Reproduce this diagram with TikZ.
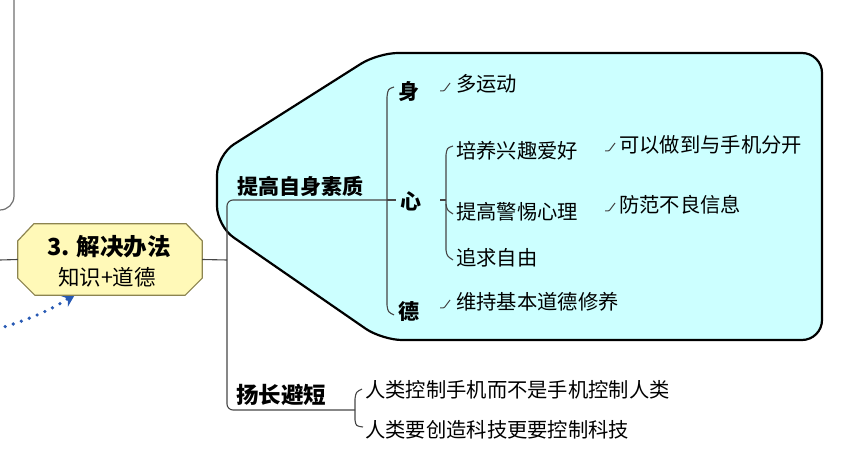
\documentclass[tikz,border=0pt]{standalone}
\usepackage{fontspec}
\setmainfont{Noto Sans CJK SC}
\usetikzlibrary{arrows.meta,calc}
\definecolor{cyanfill}{RGB}{204,255,255}
\definecolor{octfill}{RGB}{255,249,184}
\definecolor{octline}{RGB}{140,132,80}
\definecolor{linegray}{RGB}{70,70,70}
\definecolor{boxgray}{RGB}{110,110,110}
\definecolor{arrblue}{RGB}{40,90,180}
\begin{document}
\begin{tikzpicture}[x=1bp,y=-1bp,
  txt/.style={anchor=west, inner sep=0pt, font=\fontsize{20.3bp}{24bp}\selectfont},
  btxt/.style={anchor=west, inner sep=0pt, font=\fontsize{21bp}{24bp}\selectfont\bfseries},
  conn/.style={draw=linegray, line width=1.1bp},
  tickln/.style={draw=linegray, line width=1bp, rounded corners=1bp},
]
\useasboundingbox (0,0) rectangle (852,466);

% top-left partial box
\draw[boxgray, line width=1.2bp, rounded corners=14bp] (14,-6) -- (14,210) -- (-6,210);

% octagon placeholder node
\node[inner sep=0pt, minimum width=184bp, minimum height=71bp] (oct) at (110,259.5) {};

% blue dotted arrow (drawn below octagon)
\coordinate (arrS) at (-3,329);
\draw[arrblue, line width=3.6bp, line cap=round, dash pattern=on 0pt off 8.5bp,
      -{Stealth[length=14bp,width=13bp]}]
  (arrS) .. controls (25,321) and (50,311) .. ($(oct.south west)+(58,-2)$);

% octagon
\draw[fill=octfill, draw=octline, line width=1.2bp]
  ($(oct.north west)+(16,0)$) -- ($(oct.north east)+(-16,0)$) --
  ($(oct.north east)+(0,17)$) -- ($(oct.south east)+(0,-17)$) --
  ($(oct.south east)+(-17,0)$) -- ($(oct.south west)+(17,0)$) --
  ($(oct.south west)+(0,-17)$) -- ($(oct.north west)+(0,17)$) -- cycle;
\node[inner sep=0pt, font=\fontsize{23.5bp}{26bp}\selectfont\bfseries] (t1) at (109,247) {3. 解决办法};
\node[inner sep=0pt, font=\fontsize{21.5bp}{24bp}\selectfont] (t2) at (107,277) {知识+道德};

% cyan boundary
\draw[fill=cyanfill, draw=black, line width=2.2bp, rounded corners=20bp]
  (378,53) -- (822,53) -- (822,340) -- (382,340) -- (217,226) -- (217,155) -- cycle;

% text nodes
\node[btxt] (tg) at (237,186) {提高自身素质};
\node[btxt] (shen) at (398,92) {身};
\node[btxt] (xin) at (400,201) {心};
\node[btxt] (de) at (398,311) {德};
\node[txt] (ydd) at (456,84) {多运动};
\node[txt] (pyxq) at (456,151) {培养兴趣爱好};
\node[txt] (tgjt) at (456,212) {提高警惕心理};
\node[txt] (zqzy) at (456,258) {追求自由};
\node[txt] (wcjb) at (456,302) {维持基本道德修养};
\node[txt] (kyzd) at (619,145) {可以做到与手机分开};
\node[txt] (ffbl) at (619,205) {防范不良信息};
\node[btxt, font=\fontsize{22.5bp}{24bp}\selectfont\bfseries] (ycbd) at (236,395) {扬长避短};
\node[txt] (rl1) at (365,390) {人类控制手机而不是手机控制人类};
\node[txt] (rl2) at (365,430) {人类要创造科技更要控制科技};

% connectors
\coordinate (lft) at (0,260);
\coordinate (trunk) at (227,260);
\coordinate (j1) at (393,200);
\coordinate (j2) at (355,410);
\draw[conn] (lft) -- (oct.west);
\draw[conn] (oct.east) -- (trunk);
\draw[conn, rounded corners=6bp] (j1) -- (227,200) -- (227,410) -- (j2);

% shen/xin/de bracket
\draw[conn] ($(shen.west)+(-4,-5)$) .. controls (388,89) .. (387,97) -- (387,305)
  .. controls (388,312) .. ($(de.west)+(-4,4)$);
\draw[conn] (387,200) -- ($(xin.west)+(-4,-1)$);

% xin children bracket
\draw[conn] (440,200) -- (446,200);
\draw[conn] ($(pyxq.west)+(-3,-5)$) .. controls (447,148) .. (446,155) -- (446,250)
  .. controls (447,256) .. ($(zqzy.west)+(-3,2)$);
\draw[conn] (446,204) .. controls (447,210) .. ($(tgjt.west)+(-3,2)$);

% single-child ticks
\draw[tickln] ($(ydd.west)+(-16,7)$) -- ++(4,0) -- ($(ydd.west)+(-6,-1)$);
\draw[tickln] ($(wcjb.west)+(-16,6)$) -- ++(4,0) -- ($(wcjb.west)+(-6,-2)$);
\draw[tickln] ($(kyzd.west)+(-14,6)$) -- ++(4,0) -- ($(kyzd.west)+(-4,-2)$);
\draw[tickln] ($(ffbl.west)+(-14,6)$) -- ++(4,0) -- ($(ffbl.west)+(-4,-2)$);

% yang chang bi duan bracket
\draw[conn] ($(rl1.west)+(-3,-1)$) .. controls (356,392) .. (355,399) -- (355,420)
  .. controls (356,426) .. ($(rl2.west)+(-2,-3)$);
\end{tikzpicture}
\end{document}
